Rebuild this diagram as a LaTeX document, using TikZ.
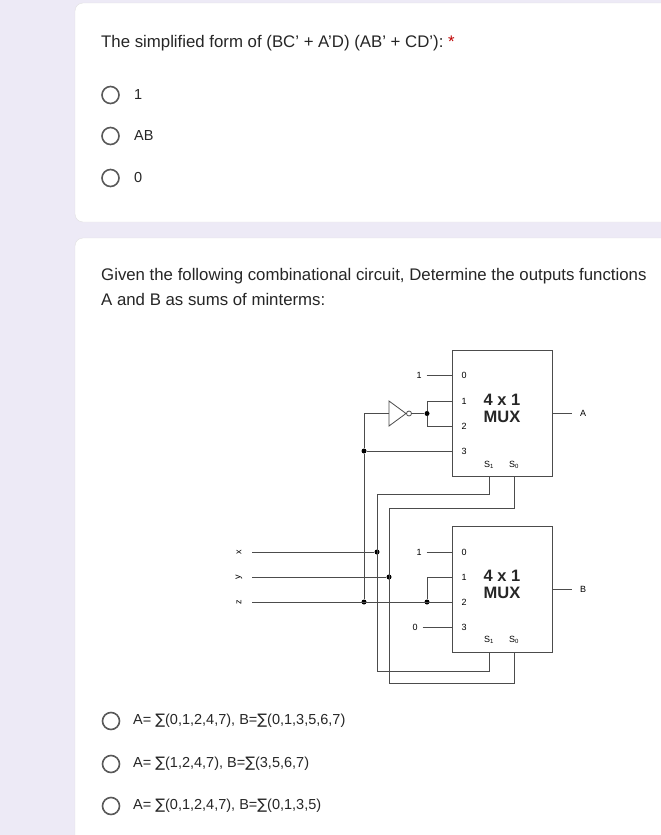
\documentclass[tikz,border=0pt]{standalone}
\usepackage{fontspec}
\setmainfont{Liberation Sans}
\newfontfamily\symf{DejaVu Sans}
\begin{document}
\begin{tikzpicture}[x=1pt,y=-1pt,
  card/.style={fill=white,draw=black!12,rounded corners=8pt},
  radio/.style={circle,draw=black!65,line width=1.6pt,minimum size=17pt,inner sep=0pt},
  qtext/.style={anchor=base west,font=\fontsize{16.8}{19}\selectfont,text=black!85,inner sep=0pt},
  otext/.style={anchor=west,font=\fontsize{14.5}{17}\selectfont,text=black!85,inner sep=0pt},
  wire/.style={draw=black!70,line width=0.8pt},
  mux/.style={draw=black!70,line width=0.8pt,minimum width=100pt,minimum height=126pt,inner sep=0pt},
  muxlbl/.style={font=\bfseries\fontsize{16.5}{17}\selectfont,align=center,inner sep=0pt,text=black!85},
  pin/.style={font=\fontsize{9}{10}\selectfont,inner sep=0pt},
  dot/.style={circle,fill=black,inner sep=0pt,minimum size=5pt}]
\useasboundingbox (0,0) rectangle (661,835);
\fill[fill={rgb,255:red,237;green,234;blue,246}] (0,0) rectangle (661,835);
\path[card] (75,3) rectangle (680,222);
\path[card] (75,238) rectangle (680,860);
% question 1
\node[qtext] (q1) at (101,47) {The simplified form of (BC' + A'D) (AB' + CD'):\ \textcolor{red!75!black}{*}};
\node[radio] (r1) at (110.5,95) {}; \node[otext] (t1) at (134,95) {1};
\node[radio] (r2) at (110.5,136) {}; \node[otext] (t2) at (134,136) {AB};
\node[radio] (r3) at (110.5,178) {}; \node[otext] (t3) at (134,178) {0};
% question 2
\node[qtext] (q2a) at (101,280) {Given the following combinational circuit, Determine the outputs functions};
\node[qtext] (q2b) at (101,305) {A and B as sums of minterms:};
\node[radio] (r4) at (111,721) {}; \node[otext] (t4) at (133,721) {A= {\symf∑}(0,1,2,4,7), B={\symf∑}(0,1,3,5,6,7)};
\node[radio] (r5) at (111,764) {}; \node[otext] (t5) at (133,764) {A= {\symf∑}(1,2,4,7), B={\symf∑}(3,5,6,7)};
\node[radio] (r6) at (111,806) {}; \node[otext] (t6) at (133,806) {A= {\symf∑}(0,1,2,4,7), B={\symf∑}(0,1,3,5)};
% MUX A
\node[mux] (ma) at (502,413) {};
\node[muxlbl] (la) at (502,408) {4 x 1\\MUX};
\foreach \i/\y in {0/375,1/401,2/426,3/451} \node[pin] (ap\i) at (464,\y) {\i};
\node[pin] (as1) at (489,465) {S\textsubscript{1}};
\node[pin] (as0) at (514,465) {S\textsubscript{0}};
% MUX B
\node[mux] (mb) at (502,589.5) {};
\node[muxlbl] (lb) at (502,584) {4 x 1\\MUX};
\foreach \i/\y in {0/552,1/577,2/602,3/627} \node[pin] (bp\i) at (464,\y) {\i};
\node[pin] (bs1) at (489,640) {S\textsubscript{1}};
\node[pin] (bs0) at (514,640) {S\textsubscript{0}};
% constants
\node[pin] (c1a) at (419,375) {1};
\node[pin] (c1b) at (419,552) {1};
\node[pin] (c0b) at (415,627) {0};
\draw[wire] (c1a.east)++(5,0) -- (452,375);
\draw[wire] (c1b.east)++(5,0) -- (452,552);
\draw[wire] (c0b.east)++(5,0) -- (452,627);
% inverter
\coordinate (ni) at (389,413);
\draw[wire,fill=white] (389,401) -- (406,413.5) -- (389,426) -- cycle;
\node[circle,draw=black!70,line width=0.8pt,fill=white,inner sep=0pt,minimum size=5pt] (bub) at (409,413.5) {};
\node[dot] (da) at (427,413.5) {};
\draw[wire] (bub) -- (da);
\draw[wire] (452,401) -| (da) |- (452,426);
% inputs
\node[pin,rotate=90] (lx) at (239,552) {x};
\node[pin,rotate=90] (ly) at (239,577) {y};
\node[pin,rotate=90] (lz) at (239,602) {z};
\node[dot] (dx) at (377,552) {};
\node[dot] (dy) at (389,577) {};
\node[dot] (dz) at (364,602) {};
\node[dot] (d3) at (364,451) {};
\node[dot] (dz2) at (427,602) {};
\draw[wire] (252,552) -- (dx);
\draw[wire] (252,577) -- (dy);
\draw[wire] (252,602) -- (452,602);
\draw[wire] (dz) -- (d3) -- (452,451);
\draw[wire] (d3) |- (ni);
\draw[wire] (dz2) |- (452,577);
% select wiring
\draw[wire] (489,476) -- (489,494) -- (377,494) -- (377,671) -- (489,671) -- (489,652);
\draw[wire] (514,476) -- (514,508) -- (389,508) -- (389,683) -- (514,683) -- (514,652);
% outputs
\draw[wire] (552,413) -- (572,413);
\node[pin] (oa) at (583,413) {A};
\draw[wire] (552,589) -- (572,589);
\node[pin] (ob) at (583,589) {B};
\end{tikzpicture}
\end{document}
